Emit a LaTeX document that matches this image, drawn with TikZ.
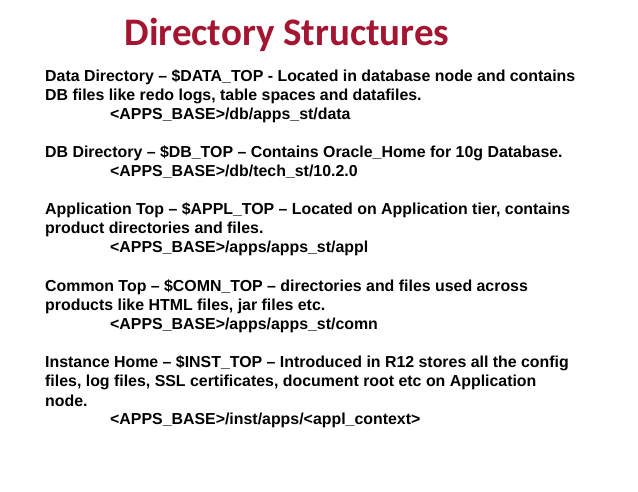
\documentclass[tikz,border=0pt]{standalone}
\usepackage{fontspec}
\setmainfont{Liberation Sans}
\newfontfamily\titlefont{Carlito}
\definecolor{titlered}{HTML}{A31530}
\begin{document}
\begin{tikzpicture}[x=1pt,y=-1pt,
  ln/.style={anchor=west,inner sep=0pt,font=\fontsize{15.9}{18}\selectfont\bfseries}]
\useasboundingbox (0,0) rectangle (638,491);
\node[font=\titlefont\fontsize{39}{44}\selectfont\bfseries,text=titlered,inner sep=0pt] (title) at (287,35) {Directory Structures};
\node[ln] (l1) at (45,77) {Data Directory – \$DATA\_TOP - Located in database node and contains};
\node[ln] (l2) at (45,96) {DB files like redo logs, table spaces and datafiles.};
\node[ln] (l3) at (110,115) {<APPS\_BASE>/db/apps\_st/data};
\node[ln] (l4) at (45,153) {DB Directory – \$DB\_TOP – Contains Oracle\_Home for 10g Database.};
\node[ln] (l5) at (110,172) {<APPS\_BASE>/db/tech\_st/10.2.0};
\node[ln] (l6) at (45,210) {Application Top – \$APPL\_TOP – Located on Application tier, contains};
\node[ln] (l7) at (45,229) {product directories and files.};
\node[ln] (l8) at (110,248) {<APPS\_BASE>/apps/apps\_st/appl};
\node[ln] (l9) at (45,287) {Common Top – \$COMN\_TOP – directories and files used across};
\node[ln] (l10) at (45,306) {products like HTML files, jar files etc.};
\node[ln] (l11) at (110,325) {<APPS\_BASE>/apps/apps\_st/comn};
\node[ln] (l12) at (45,363) {Instance Home – \$INST\_TOP – Introduced in R12 stores all the config};
\node[ln] (l13) at (45,382) {files, log files, SSL certificates, document root etc on Application};
\node[ln] (l14) at (45,401) {node.};
\node[ln] (l15) at (110,420) {<APPS\_BASE>/inst/apps/<appl\_context>};
\end{tikzpicture}
\end{document}
